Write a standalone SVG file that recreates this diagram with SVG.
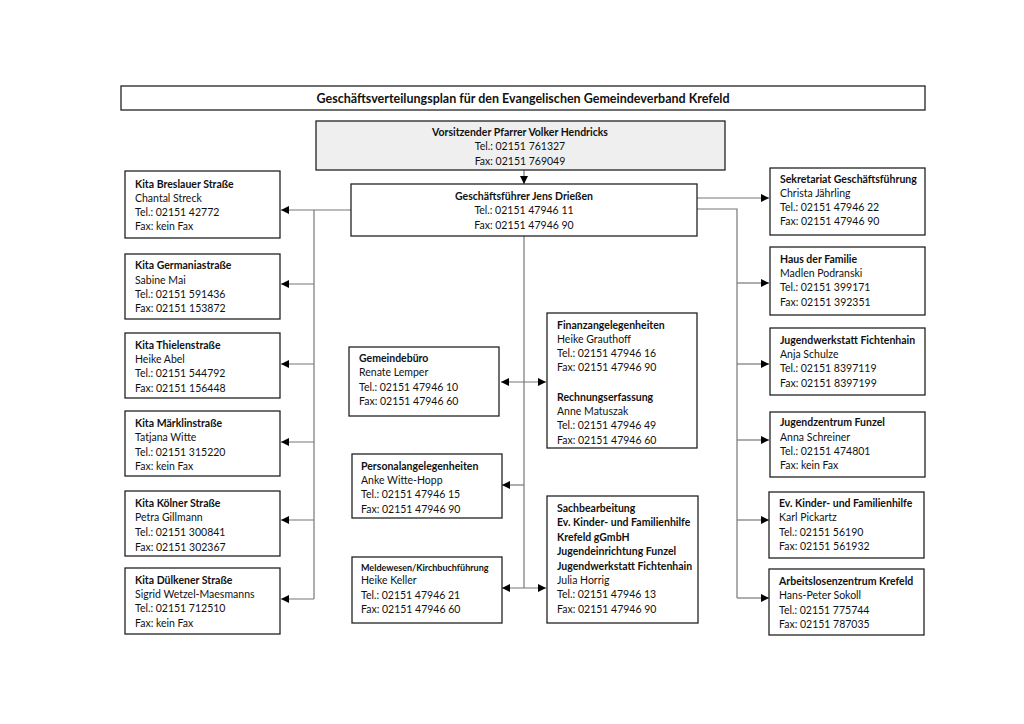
<svg xmlns="http://www.w3.org/2000/svg" width="1024" height="724" viewBox="0 0 1024 724">
<defs>
<marker id="ah" viewBox="0 0 10 10" refX="10" refY="5" markerWidth="8" markerHeight="8" markerUnits="userSpaceOnUse" orient="auto-start-reverse">
<path d="M0,0 L10,5 L0,10 z" fill="#000"/>
</marker>
<style>
.box{fill:#fff;stroke:#222;stroke-width:1.3}
.gray{fill:#efefef}
.t{font-family:Lato,"Open Sans","Liberation Sans",sans-serif;font-size:10.5px;fill:#111}
.b{font-weight:bold}
.c{text-anchor:middle}
.ln{fill:none;stroke:#777;stroke-width:1.2}
.ar{marker-end:url(#ah)}
.ar2{marker-end:url(#ah);marker-start:url(#ah)}
</style>
</defs>
<rect width="1024" height="724" fill="#fff"/>

<g id="title">
<rect class="box" x="121" y="86" width="804" height="24"/>
<text class="t b c" x="523" y="103" style="font-size:12.5px">Geschäftsverteilungsplan für den Evangelischen Gemeindeverband Krefeld</text>
</g>

<g id="connectors">
<line class="ln ar" x1="524" y1="170" x2="524" y2="184"/>
<line class="ln ar" x1="351" y1="210" x2="281" y2="210"/>
<polyline class="ln" points="314,210 314,599"/>
<line class="ln ar" x1="314" y1="284" x2="281" y2="284"/>
<line class="ln ar" x1="314" y1="364" x2="281" y2="364"/>
<line class="ln ar" x1="314" y1="442" x2="281" y2="442"/>
<line class="ln ar" x1="314" y1="520" x2="281" y2="520"/>
<line class="ln ar" x1="314" y1="599" x2="281" y2="599"/>
<line class="ln ar" x1="697" y1="198" x2="769" y2="198"/>
<polyline class="ln" points="697,209 737,209 737,598"/>
<line class="ln ar" x1="737" y1="283" x2="769" y2="283"/>
<line class="ln ar" x1="737" y1="364" x2="769" y2="364"/>
<line class="ln ar" x1="737" y1="440" x2="769" y2="440"/>
<line class="ln ar" x1="737" y1="520" x2="769" y2="520"/>
<line class="ln ar" x1="737" y1="598" x2="769" y2="598"/>
<line class="ln" x1="524" y1="236" x2="524" y2="588"/>
<line class="ln ar2" x1="501" y1="382" x2="546" y2="382"/>
<line class="ln ar" x1="524" y1="485" x2="502" y2="485"/>
<line class="ln ar2" x1="502" y1="588" x2="546" y2="588"/>
</g>

<g id="vorsitzender">
<rect class="box gray" x="316" y="121" width="409" height="49"/>
<text class="t b c" x="520" y="136">Vorsitzender Pfarrer Volker Hendricks</text>
<text class="t c" x="520" y="150">Tel.: 02151 761327</text>
<text class="t c" x="520" y="165">Fax: 02151 769049</text>
</g>

<g id="geschaeftsfuehrer">
<rect class="box" x="351" y="184" width="346" height="52"/>
<text class="t b c" x="524" y="200">Geschäftsführer Jens Drießen</text>
<text class="t c" x="524" y="214">Tel.: 02151 47946 11</text>
<text class="t c" x="524" y="229">Fax: 02151 47946 90</text>
</g>

<g id="kita-breslauer">
<rect class="box" x="125" y="171" width="155" height="67"/>
<text class="t b" x="135" y="188">Kita Breslauer Straße</text>
<text class="t" x="135" y="202">Chantal Streck</text>
<text class="t" x="135" y="216">Tel.: 02151 42772</text>
<text class="t" x="135" y="230">Fax: kein Fax</text>
</g>

<g id="kita-germania">
<rect class="box" x="125" y="254" width="155" height="65"/>
<text class="t b" x="135" y="269">Kita Germaniastraße</text>
<text class="t" x="135" y="284">Sabine Mai</text>
<text class="t" x="135" y="298">Tel.: 02151 591436</text>
<text class="t" x="135" y="312">Fax: 02151 153872</text>
</g>

<g id="kita-thielen">
<rect class="box" x="125" y="333" width="155" height="65"/>
<text class="t b" x="135" y="349">Kita Thielenstraße</text>
<text class="t" x="135" y="363">Heike Abel</text>
<text class="t" x="135" y="377">Tel.: 02151 544792</text>
<text class="t" x="135" y="392">Fax: 02151 156448</text>
</g>

<g id="kita-maerklin">
<rect class="box" x="125" y="411" width="155" height="65"/>
<text class="t b" x="135" y="427">Kita Märklinstraße</text>
<text class="t" x="135" y="441">Tatjana Witte</text>
<text class="t" x="135" y="456">Tel.: 02151 315220</text>
<text class="t" x="135" y="470">Fax: kein Fax</text>
</g>

<g id="kita-koelner">
<rect class="box" x="125" y="491" width="155" height="65"/>
<text class="t b" x="135" y="507">Kita Kölner Straße</text>
<text class="t" x="135" y="521">Petra Gillmann</text>
<text class="t" x="135" y="536">Tel.: 02151 300841</text>
<text class="t" x="135" y="551">Fax: 02151 302367</text>
</g>

<g id="kita-duelkener">
<rect class="box" x="125" y="568" width="155" height="66"/>
<text class="t b" x="135" y="584">Kita Dülkener Straße</text>
<text class="t" x="135" y="598">Sigrid Wetzel-Maesmanns</text>
<text class="t" x="135" y="612">Tel.: 02151 712510</text>
<text class="t" x="135" y="627">Fax: kein Fax</text>
</g>

<g id="gemeindebuero">
<rect class="box" x="349" y="347" width="150" height="69"/>
<text class="t b" x="359" y="362">Gemeindebüro</text>
<text class="t" x="359" y="376">Renate Lemper</text>
<text class="t" x="359" y="391">Tel.: 02151 47946 10</text>
<text class="t" x="359" y="405">Fax: 02151 47946 60</text>
</g>

<g id="finanz">
<rect class="box" x="547" y="313" width="150" height="135"/>
<text class="t b" x="557" y="329">Finanzangelegenheiten</text>
<text class="t" x="557" y="343">Heike Grauthoff</text>
<text class="t" x="557" y="357">Tel.: 02151 47946 16</text>
<text class="t" x="557" y="371">Fax: 02151 47946 90</text>
<text class="t b" x="557" y="401">Rechnungserfassung</text>
<text class="t" x="557" y="415">Anne Matuszak</text>
<text class="t" x="557" y="429">Tel.: 02151 47946 49</text>
<text class="t" x="557" y="444">Fax: 02151 47946 60</text>
</g>

<g id="personal">
<rect class="box" x="352" y="454" width="150" height="64"/>
<text class="t b" x="361" y="470">Personalangelegenheiten</text>
<text class="t" x="361" y="484">Anke Witte-Hopp</text>
<text class="t" x="361" y="498">Tel.: 02151 47946 15</text>
<text class="t" x="361" y="513">Fax: 02151 47946 90</text>
</g>

<g id="meldewesen">
<rect class="box" x="352" y="557" width="150" height="66"/>
<text class="t b" x="361" y="571" style="font-size:9px">Meldewesen/Kirchbuchführung</text>
<text class="t" x="361" y="584">Heike Keller</text>
<text class="t" x="361" y="599">Tel.: 02151 47946 21</text>
<text class="t" x="361" y="613">Fax: 02151 47946 60</text>
</g>

<g id="sachbearbeitung">
<rect class="box" x="547" y="496" width="151" height="127"/>
<text class="t b" x="557" y="512">Sachbearbeitung</text>
<text class="t b" x="557" y="526">Ev. Kinder- und Familienhilfe</text>
<text class="t b" x="557" y="541">Krefeld gGmbH</text>
<text class="t b" x="557" y="555">Jugendeinrichtung Funzel</text>
<text class="t b" x="557" y="570">Jugendwerkstatt Fichtenhain</text>
<text class="t" x="557" y="584">Julia Horrig</text>
<text class="t" x="557" y="598">Tel.: 02151 47946 13</text>
<text class="t" x="557" y="613">Fax: 02151 47946 90</text>
</g>

<g id="sekretariat">
<rect class="box" x="770" y="168" width="155" height="67"/>
<text class="t b" x="780" y="183">Sekretariat Geschäftsführung</text>
<text class="t" x="780" y="197">Christa Jährling</text>
<text class="t" x="780" y="211">Tel.: 02151 47946 22</text>
<text class="t" x="780" y="225">Fax: 02151 47946 90</text>
</g>

<g id="haus-der-familie">
<rect class="box" x="770" y="247" width="155" height="68"/>
<text class="t b" x="780" y="263">Haus der Familie</text>
<text class="t" x="780" y="277">Madlen Podranski</text>
<text class="t" x="780" y="291">Tel.: 02151 399171</text>
<text class="t" x="780" y="306">Fax: 02151 392351</text>
</g>

<g id="jugendwerkstatt">
<rect class="box" x="770" y="328" width="155" height="67"/>
<text class="t b" x="780" y="344">Jugendwerkstatt Fichtenhain</text>
<text class="t" x="780" y="358">Anja Schulze</text>
<text class="t" x="780" y="372">Tel.: 02151 8397119</text>
<text class="t" x="780" y="387">Fax: 02151 8397199</text>
</g>

<g id="jugendzentrum">
<rect class="box" x="770" y="412" width="155" height="65"/>
<text class="t b" x="780" y="426">Jugendzentrum Funzel</text>
<text class="t" x="780" y="441">Anna Schreiner</text>
<text class="t" x="780" y="455">Tel.: 02151 474801</text>
<text class="t" x="780" y="469">Fax: kein Fax</text>
</g>

<g id="ev-kinder">
<rect class="box" x="769" y="492" width="155" height="66"/>
<text class="t b" x="779" y="507">Ev. Kinder- und Familienhilfe</text>
<text class="t" x="779" y="521">Karl Pickartz</text>
<text class="t" x="779" y="536">Tel.: 02151 56190</text>
<text class="t" x="779" y="550">Fax: 02151 561932</text>
</g>

<g id="arbeitslosenzentrum">
<rect class="box" x="769" y="569" width="155" height="66"/>
<text class="t b" x="779" y="585">Arbeitslosenzentrum Krefeld</text>
<text class="t" x="779" y="599">Hans-Peter Sokoll</text>
<text class="t" x="779" y="614">Tel.: 02151 775744</text>
<text class="t" x="779" y="628">Fax: 02151 787035</text>
</g>
</svg>
